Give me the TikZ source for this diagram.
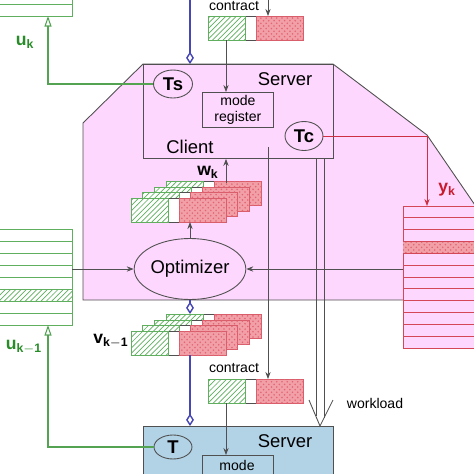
\documentclass[tikz,border=0pt]{standalone}
\usepackage{fontspec}
\setmainfont{Liberation Sans}
\usetikzlibrary{positioning, calc, arrows.meta, patterns, shapes.geometric}

\definecolor{clientpink}{RGB}{253,215,253}
\definecolor{serverblue}{RGB}{178,210,230}
\definecolor{ugreen}{RGB}{40,140,40}
\definecolor{hatchgreen}{RGB}{95,175,95}
\definecolor{yred}{RGB}{200,25,45}
\definecolor{checkred}{RGB}{242,160,168}
\definecolor{dotred}{RGB}{228,100,115}
\definecolor{vblue}{RGB}{70,70,180}
\definecolor{framegray}{RGB}{80,80,80}

\tikzset{
  boxline/.style={draw=framegray, line width=0.5pt},
  tnode/.style={ellipse, boxline, inner sep=0pt, font=\bfseries\fontsize{10.5}{12}\selectfont},
  bigtext/.style={font=\fontsize{10.5}{12}\selectfont},
  smalltext/.style={font=\fontsize{8}{9.5}\selectfont},
  labeltext/.style={font=\bfseries\fontsize{10}{12}\selectfont},
  plainarrow/.style={draw=framegray, line width=0.5pt, -{Stealth[length=4pt,width=3pt]}},
  blueflow/.style={draw=vblue, line width=0.8pt, -{Diamond[open,length=7pt,width=4.5pt]}},
  greenflow/.style={draw=ugreen!80, line width=0.6pt, -{Triangle[open,length=6pt,width=4pt]}},
  redflow/.style={draw=yred!90, line width=0.5pt, -{Stealth[length=4pt,width=3pt]}},
  greenhatch/.style={fill=white, postaction={pattern=north east lines, pattern color=hatchgreen}},
  redcheck/.style={fill=checkred, postaction={pattern=crosshatch dots, pattern color=dotred}},
}

% one contract: hatched part, gap, checked part (top left corner given)
\newcommand{\contractbar}[2]{%
  \path[fill=white, draw=framegray, line width=0.4pt] ({#1},{#2}) rectangle ++(95,24);
  \path[greenhatch, draw=hatchgreen, line width=0.4pt] ({#1},{#2}) rectangle ++(37,24);
  \path[redcheck, draw=yred!70, line width=0.4pt] ({#1+48},{#2}) rectangle ++(47,24);
}

\begin{document}
\begin{tikzpicture}[x=0.02cm, y=-0.02cm]
\useasboundingbox (0,0) rectangle (474,474);
\clip (0,0) rectangle (474,474);

% Client region
\draw[boxline, fill=clientpink] (83,123) -- (143,64) -- (333,64) -- (427,135)
  -- (490,227) -- (490,300) -- (83,300) -- cycle;

% y_k history stack
\filldraw[draw=yred!80, fill=clientpink, line width=0.4pt] (403,206) rectangle (490,348);
\path[redcheck] (403,{206+11.83*3}) rectangle (490,{206+11.83*4});
\foreach \r in {1,...,11}
  \draw[yred!80, line width=0.4pt] (403,{206+11.83*\r}) -- (490,{206+11.83*\r});

% u_k history stacks
\draw[hatchgreen, line width=0.5pt] (-10,-10) rectangle (72,16);
\draw[hatchgreen, line width=0.5pt] (-10,4) -- (72,4);
\path[greenhatch] (-10,289) rectangle (72,301);
\draw[hatchgreen, line width=0.5pt] (-10,229) rectangle (72,325);
\foreach \r in {1,...,7}
  \draw[hatchgreen, line width=0.5pt] (-10,{229+12*\r}) -- (72,{229+12*\r});

% upper Server / Client
\node[boxline, minimum width=3.8cm, minimum height=1.88cm, anchor=north west, inner sep=0pt] (srv) at (143,64) {};
\node[bigtext] (srvtxt) at (285,79) {Server};
\node[bigtext] (clienttxt) at (190,147) {Client};
\node[boxline, minimum width=1.42cm, minimum height=0.7cm, anchor=north west, inner sep=0pt,
  align=center, smalltext] (mode) at (202,92) {mode\\register};
\node[tnode, minimum width=0.78cm, minimum height=0.56cm] (ts) at (173,84) {Ts};
\node[tnode, minimum width=0.76cm, minimum height=0.58cm] (tc) at (304,136) {Tc};

% Optimizer
\node[ellipse, boxline, minimum width=1.9cm, minimum height=1.22cm, inner sep=0pt, bigtext] (opt) at (190,269) {Optimizer};

% lower Server
\node[boxline, fill=serverblue, minimum width=3.8cm, minimum height=1.2cm, anchor=north west, inner sep=0pt] (srvlow) at (143,426) {};
\node[bigtext] (srvlowtxt) at (285,441) {Server};
\node[tnode, fill=serverblue, minimum width=0.76cm, minimum height=0.48cm] (t) at (173,447) {T};
\node[boxline, minimum width=1.42cm, minimum height=0.8cm, anchor=north west, inner sep=0pt] (modelow) at (202,455) {};
\node[smalltext] (modelowtxt) at (237,465) {mode};

% contracts
\contractbar{208}{16}
\node[smalltext] (ctoptxt) at (234,6) {contract};
\contractbar{208}{379}
\node[smalltext] (clowtxt) at (234,368) {contract};

% w_k and v_{k-1} stacks
\foreach \i in {3,2,1,0} {\contractbar{131+11.7*\i}{198-5.4*\i}}
\foreach \i in {3,2,1,0} {\contractbar{131+11.7*\i}{331-5.4*\i}}

% end points
\coordinate (vin) at (190,0);
\coordinate (intop) at (268,0);
\coordinate (ctopred) at (268,16);
\coordinate (ctopgreen) at (226,40);
\coordinate (uktop) at (48,16);
\coordinate (wktop) at (226,183);
\coordinate (wkbottom) at (190,222);
\coordinate (uout) at (72,269);
\coordinate (ykout) at (403,269);
\coordinate (yktop) at (427,206);
\coordinate (srvout) at (268,147);
\coordinate (clowred) at (268,379);
\coordinate (clowgreen) at (226,403);
\coordinate (vtop) at (190,314);
\coordinate (vbottom) at (190,355);
\coordinate (ulowtop) at (48,325);

% connectors
\draw[blueflow] (vin) -- (vin |- srv.north);
\draw[plainarrow] (intop) -- (ctopred);
\draw[plainarrow] (ctopgreen) -- (mode.north -| ctopgreen);
\draw[greenflow] (ts.west) -| (uktop);
\draw[redflow] (tc.east) -| (yktop);
\draw[plainarrow] (wktop) -- (wktop |- srv.south);
\draw[plainarrow] (opt.north) -- (wkbottom);
\draw[plainarrow] (uout) -- (opt.west);
\draw[plainarrow] (ykout) -- (opt.east);
\draw[plainarrow] (srvout) -- (clowred);
\draw[blueflow] (opt.south) -- (vtop);
\draw[blueflow] (vbottom) -- (vbottom |- srvlow.north);
\draw[plainarrow] (clowgreen) -- (clowgreen |- modelow.north);
\draw[greenflow] (t.west) -| (ulowtop);

% workload
\draw[boxline] (316,158) -- (316,416);
\draw[boxline] (324,158) -- (324,418);
\draw[boxline] (309,400) -- (320,426) -- (333,400);
\node[smalltext] (wltxt) at (375,403) {workload};

% labels
\node[labeltext, text=ugreen] (uk) at (25,42) {u\textsubscript{k}};
\node[labeltext, text=ugreen] (ukm1) at (24,347) {u\textsubscript{k$-$1}};
\node[labeltext] (wk) at (208,172) {w\textsubscript{k}};
\node[labeltext] (vkm1) at (111,341) {v\textsubscript{k$-$1}};
\node[labeltext, text=yred] (yk) at (447,190) {y\textsubscript{k}};

\end{tikzpicture}
\end{document}
